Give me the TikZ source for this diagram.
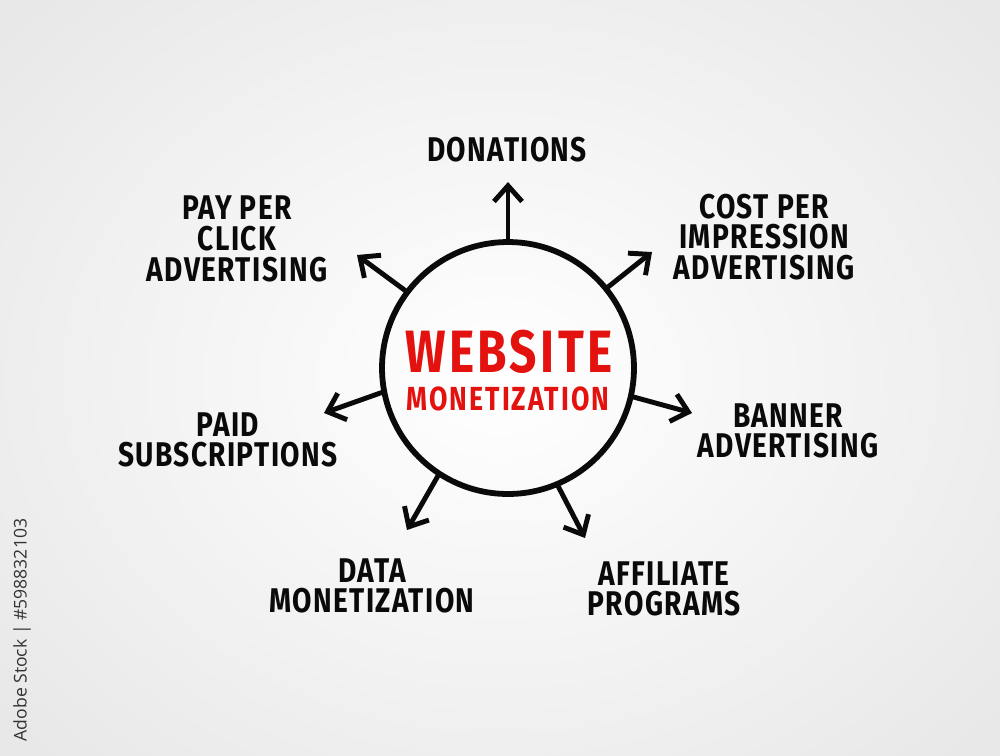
\documentclass[tikz,border=0pt]{standalone}
\usepackage{fontspec}
\usetikzlibrary{arrows.meta}
\newfontfamily\hand[FakeStretch=0.82,LetterSpace=4]{Fira Sans}
\newfontfamily\handc[FakeStretch=0.8,LetterSpace=6]{Fira Sans}
\newfontfamily\wmark{Open Sans}
\definecolor{redtxt}{HTML}{E3120F}
\definecolor{ink}{HTML}{0A0A0A}
\begin{document}
\begin{tikzpicture}[x=0.02cm,y=-0.02cm,
  lbl/.style={inner sep=0pt,align=center,text=ink,font=\hand\bfseries\fontsize{19.5}{17.5}\selectfont},
  arr/.style={line width=2.8pt,ink,line cap=round,line join=round,-{Straight Barb[length=9pt,width=16pt,line width=2.8pt]}},
  hub/.style={circle,draw=ink,line width=3.3pt,minimum size=5.04cm,inner sep=0pt}]
\useasboundingbox (0,0) rectangle (1000,755);
\shade[inner color=white,outer color=black!9] (-150,-150) rectangle (1150,905);
% centre
\node[hub] (c) at (508,368) {};
\node[inner sep=0pt,text=redtxt,font=\handc\bfseries\fontsize{34}{34}\selectfont] (w) at (509,352) {WEBSITE};
\node[inner sep=0pt,text=redtxt,font=\handc\bfseries\fontsize{19}{17}\selectfont] (m) at (508,399) {MONETIZATION};
% labels
\node[lbl] (don) at (507,150) {DONATIONS};
\node[lbl] (ppc) at (237,239) {PAY PER\\CLICK\\ADVERTISING};
\node[lbl] (cpi) at (764,237) {COST PER\\IMPRESSION\\ADVERTISING};
\node[lbl] (ban) at (788,431) {BANNER\\ADVERTISING};
\node[lbl] (sub) at (228,440) {PAID\\SUBSCRIPTIONS};
\node[lbl] (dat) at (372,586) {DATA\\MONETIZATION};
\node[lbl] (aff) at (664,589) {AFFILIATE\\PROGRAMS};
% arrow tips
\coordinate (tU) at (508,182);
\coordinate (tUL) at (357,255);
\coordinate (tUR) at (652,252);
\coordinate (tR) at (692,413);
\coordinate (tL) at (324,413);
\coordinate (tLL) at (407,530);
\coordinate (tLR) at (585,538);
\draw[arr] (c.90) -- (tU);
\draw[arr] (c.143.6) -- (tUL);
\draw[arr] (c.39.7) -- (tUR);
\draw[arr] (c.-13.5) -- (tR);
\draw[arr] (c.191.9) -- (tL);
\draw[arr] (c.237.2) -- (tLL);
\draw[arr] (c.293) -- (tLR);
% vertical stock id
\node[rotate=90,inner sep=0pt,text=black!80,font=\wmark\fontsize{10}{10}\selectfont] (id) at (22,630) {Adobe Stock | \#598832103};
\end{tikzpicture}
\end{document}
